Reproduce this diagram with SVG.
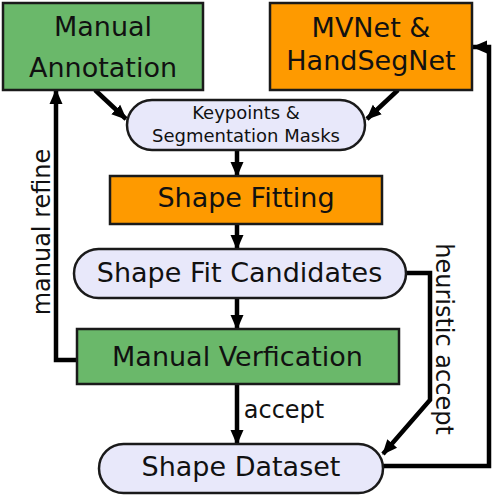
<svg xmlns="http://www.w3.org/2000/svg" width="495" height="495" viewBox="0 0 495 495">
<style>
.box{stroke:#1a1a1a;stroke-width:2.5}
.green{fill:#6ab86a}
.orange{fill:#fe9a00}
.pill{fill:#e8e8fa}
text{font-family:"DejaVu Sans",Verdana,sans-serif;fill:#111;text-anchor:middle}
.big{font-size:27px}
.small{font-size:18px}
.lbl{font-size:24px}
.edge{fill:none;stroke:#000;stroke-width:4.5}
</style>
<defs>
<marker id="ah" markerUnits="userSpaceOnUse" markerWidth="15" markerHeight="15" viewBox="0 0 15 15" refX="14" refY="7.5" orient="auto">
<path d="M0,1 L15,7.5 L0,14 Z" fill="#000"/>
</marker>
</defs>
<rect width="495" height="495" fill="#fff"/>
<g id="connectors">
<path class="edge" d="M95,90 L126,119" marker-end="url(#ah)"/>
<path class="edge" d="M398,90 L367,119" marker-end="url(#ah)"/>
<path class="edge" d="M237,150 L237,176" marker-end="url(#ah)"/>
<path class="edge" d="M237,224 L237,249" marker-end="url(#ah)"/>
<path class="edge" d="M237,298 L237,329" marker-end="url(#ah)"/>
<path class="edge" d="M237,384 L237,444" marker-end="url(#ah)"/>
<path class="edge" d="M76,360 L56,360 L56,90" marker-end="url(#ah)"/>
<path class="edge" d="M404,273 L430,273 L430,400 L383,454" marker-end="url(#ah)"/>
<path class="edge" d="M383,466 L489,466 L489,47 L473,47" marker-end="url(#ah)"/>
<text class="lbl" transform="translate(50,232) rotate(-90)">manual refine</text>
<text class="lbl" transform="translate(436,339) rotate(90)">heuristic accept</text>
<text class="lbl" x="284" y="418">accept</text>
</g>
<g id="manual-annotation">
<rect class="box green" x="3" y="3" width="200" height="87"/>
<text class="big" x="103" y="36">Manual</text>
<text class="big" x="103" y="77">Annotation</text>
</g>
<g id="mvnet">
<rect class="box orange" x="270" y="3" width="202" height="87"/>
<text class="big" x="371" y="37">MVNet &amp;</text>
<text class="big" x="371" y="70">HandSegNet</text>
</g>
<g id="keypoints">
<rect class="box pill" x="127" y="100" width="238" height="50" rx="25"/>
<text class="small" x="246" y="119">Keypoints &amp;</text>
<text class="small" x="246" y="142">Segmentation Masks</text>
</g>
<g id="shape-fitting">
<rect class="box orange" x="110" y="176" width="272" height="48"/>
<text class="big" x="246" y="207">Shape Fitting</text>
</g>
<g id="candidates">
<rect class="box pill" x="74" y="249" width="332" height="49" rx="24.5"/>
<text class="big" x="239.5" y="282">Shape Fit Candidates</text>
</g>
<g id="manual-verification">
<rect class="box green" x="77" y="329" width="322" height="55"/>
<text class="big" x="237.5" y="366">Manual Verfication</text>
</g>
<g id="shape-dataset">
<rect class="box pill" x="99" y="444" width="284" height="49" rx="24.5"/>
<text class="big" x="241" y="476">Shape Dataset</text>
</g>
</svg>
